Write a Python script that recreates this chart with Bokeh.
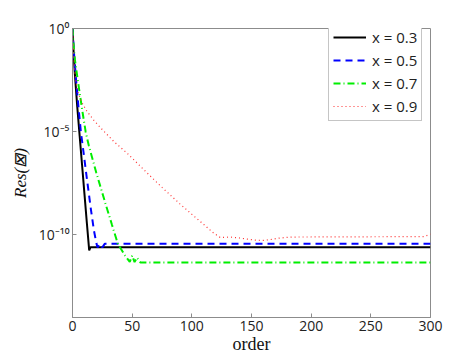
from bokeh.plotting import figure
from bokeh.models import FixedTicker, CustomJSTickFormatter
from bokeh.embed import file_html
from bokeh.resources import INLINE

# ---- data ----
order_03 = [0, 1, 2, 4, 6, 8, 10, 12, 14, 15, 300]
res_03 = [1.0, 6e-2, 6e-3, 1.6e-4, 6.3e-6, 2.5e-7, 1e-8, 4e-10, 1.8e-11, 2.5e-11, 2.5e-11]

order_05 = [0, 1, 3, 5, 7, 9, 12, 15.5, 18, 20, 21, 23, 25, 27, 300]
res_05 = [1.0, 1e-1, 3.2e-3, 1.6e-4, 1e-5, 1.3e-6, 5.6e-8, 1.6e-9, 1.6e-10, 4e-11,
          2.5e-11, 3.7e-11, 2.5e-11, 3.7e-11, 3.7e-11]

order_07 = [0, 1, 2, 4.4, 8, 11, 13.6, 20, 28, 33, 38, 44, 48, 50, 52, 54, 57, 300]
res_07 = [1.0, 1.26e-1, 3.2e-2, 3.2e-3, 1.26e-4, 1e-5, 2.2e-6, 1e-7, 2.8e-9, 3.2e-10,
          3.7e-11, 1e-11, 5e-12, 1e-11, 4.8e-12, 7.9e-12, 4.6e-12, 4.6e-12]

order_09 = [0, 1, 2, 4, 8, 12, 18, 25, 35, 46, 60, 75, 90, 100, 110, 118, 124, 132,
            140, 146, 153, 160, 166, 172, 183, 295, 300]
res_09 = [1.0, 5e-2, 6.3e-3, 1e-3, 2.5e-4, 1e-4, 3.5e-5, 1.26e-5, 3.2e-6, 8.9e-7,
          1.4e-7, 2e-8, 3.2e-9, 1e-9, 3.2e-10, 1.26e-10, 7.4e-11, 7.9e-11, 7.1e-11,
          6.3e-11, 5.6e-11, 5.4e-11, 6e-11, 6.9e-11, 7.9e-11, 8.3e-11, 1.1e-10]

x_ticks = [0, 50, 100, 150, 200, 250, 300]
y_ticks = [1e-10, 1e-5, 1.0]
labels = ["x = 0.3", "x = 0.5", "x = 0.7", "x = 0.9"]

AX = "#8c8c8c"
TICK_FONT = "Open Sans"

p = figure(width=474, height=356, x_range=(0, 300), y_range=(1e-14, 1.0),
           y_axis_type="log", output_backend="svg", toolbar_location=None,
           min_border_left=72, min_border_right=44, min_border_top=28,
           min_border_bottom=38, background_fill_color="white",
           border_fill_color="white")
p.grid.grid_line_color = None
p.outline_line_color = AX
p.outline_line_width = 1

fmt = CustomJSTickFormatter(code="""
const sup = {'0':'\u2070','1':'\u00b9','2':'\u00b2','3':'\u00b3','4':'\u2074','5':'\u2075',
             '6':'\u2076','7':'\u2077','8':'\u2078','9':'\u2079','-':'\u207b'};
const e = Math.round(Math.log10(tick));
return '10' + String(e).split('').map(c => sup[c]).join('');
""")

xa = p.xaxis[0]
xa.ticker = FixedTicker(ticks=x_ticks, minor_ticks=[])
ya = p.yaxis[0]
ya.ticker = FixedTicker(ticks=y_ticks, minor_ticks=[])
ya.formatter = fmt
for ax in (xa, ya):
    ax.axis_line_color = AX
    ax.major_tick_line_color = AX
    ax.major_tick_in = 4
    ax.major_tick_out = 0
    ax.minor_tick_line_color = None
    ax.major_label_text_font = TICK_FONT
    ax.major_label_text_font_size = "14px"
    ax.major_label_text_color = "#222222"

xa.major_label_standoff = 3
xa.axis_label = "order"
xa.axis_label_text_font = "Liberation Serif"
xa.axis_label_text_font_style = "normal"
xa.axis_label_text_font_size = "18px"
xa.axis_label_text_color = "#111111"
xa.axis_label_standoff = 0

ya.major_label_standoff = 3
ya.axis_label = "Res(\u22a0)"
ya.axis_label_text_font = "Liberation Serif"
ya.axis_label_text_font_style = "italic"
ya.axis_label_text_font_size = "17px"
ya.axis_label_text_color = "#111111"
ya.axis_label_standoff = 6

p.line(order_03, res_03, line_color="black", line_width=2, legend_label=labels[0])
p.line(order_05, res_05, line_color="#0000ff", line_width=2, line_dash="7 5",
       legend_label=labels[1])
p.line(order_07, res_07, line_color="#00ee00", line_width=2, line_dash="7 3 1 3",
       legend_label=labels[2])
p.line(order_09, res_09, line_color="#ff3030", line_width=1.2, line_dash="1 3",
       legend_label=labels[3])

lg = p.legend[0]
lg.location = (256, 196)
lg.border_line_color = AX
lg.border_line_width = 1
lg.background_fill_color = "white"
lg.background_fill_alpha = 1
lg.label_text_font = TICK_FONT
lg.label_text_font_size = "15px"
lg.label_text_color = "#222222"
lg.glyph_width = 33
lg.glyph_height = 18
lg.label_height = 18
lg.label_standoff = 6
lg.spacing = 3
lg.padding = 4
lg.margin = 0

open("out.html", "w").write(file_html(p, INLINE))
